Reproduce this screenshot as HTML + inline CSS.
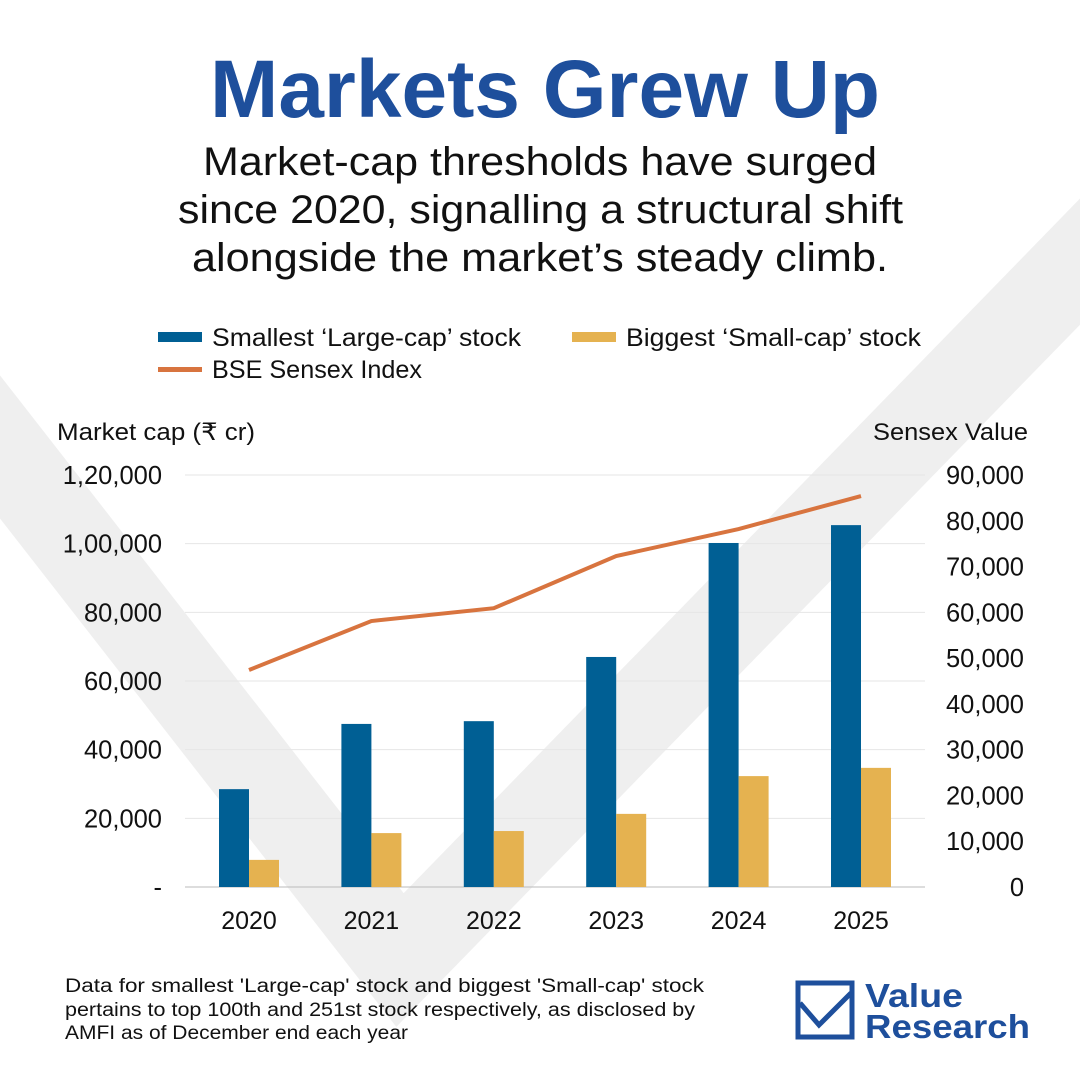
<!DOCTYPE html>
<html><head><meta charset="utf-8"><style>
html,body{margin:0;padding:0;background:#fff}
body{width:1080px;height:1080px;position:relative;overflow:hidden;font-family:"Liberation Sans",sans-serif}
svg text{font-family:"Liberation Sans",sans-serif}
</style></head><body>
<svg width="1080" height="1080" viewBox="0 0 1080 1080">
<polyline points="-60,370 400,960 1140,200" fill="none" stroke="#efefef" stroke-width="88"/>
<text x="210" y="117" textLength="670" lengthAdjust="spacingAndGlyphs" font-size="82" font-weight="bold" fill="#1e4f9c">Markets Grew Up</text>
<g font-size="40" fill="#111">
<text x="203" y="175" textLength="674" lengthAdjust="spacingAndGlyphs">Market-cap thresholds have surged</text>
<text x="178" y="223" textLength="725" lengthAdjust="spacingAndGlyphs">since 2020, signalling a structural shift</text>
<text x="192" y="271" textLength="696" lengthAdjust="spacingAndGlyphs">alongside the market’s steady climb.</text>
</g>
<g font-size="25" fill="#111">
<rect x="158" y="332" width="44" height="10" fill="#005f94"/>
<text x="212" y="346" textLength="309" lengthAdjust="spacingAndGlyphs">Smallest ‘Large-cap’ stock</text>
<rect x="572" y="332" width="44" height="10" fill="#e5b250"/>
<text x="626" y="346" textLength="295" lengthAdjust="spacingAndGlyphs">Biggest ‘Small-cap’ stock</text>
<rect x="158" y="367" width="44" height="5" fill="#d8743f"/>
<text x="212" y="378" textLength="210" lengthAdjust="spacingAndGlyphs">BSE Sensex Index</text>
</g>
<text x="57" y="440" font-size="24" textLength="198" lengthAdjust="spacingAndGlyphs" fill="#111">Market cap (₹ cr)</text>
<text x="873" y="440" font-size="24" textLength="155" lengthAdjust="spacingAndGlyphs" fill="#111">Sensex Value</text>
<g id="plot"></g>
<text x="65" y="992" font-size="19" textLength="639" lengthAdjust="spacingAndGlyphs" fill="#111">Data for smallest 'Large-cap' stock and biggest 'Small-cap' stock</text>
<text x="65" y="1016" font-size="19" textLength="630" lengthAdjust="spacingAndGlyphs" fill="#111">pertains to top 100th and 251st stock respectively, as disclosed by</text>
<text x="65" y="1039" font-size="19" textLength="343" lengthAdjust="spacingAndGlyphs" fill="#111">AMFI as of December end each year</text>
<g>
<rect x="798" y="983" width="54" height="54" fill="none" stroke="#1e4f9c" stroke-width="5"/>
<polyline points="800,1003 819,1025 851,993" fill="none" stroke="#1e4f9c" stroke-width="5"/>
<text x="865" y="1007" font-size="33" font-weight="bold" textLength="98" lengthAdjust="spacingAndGlyphs" fill="#1e4f9c">Value</text>
<text x="865" y="1038" font-size="33" font-weight="bold" textLength="165" lengthAdjust="spacingAndGlyphs" fill="#1e4f9c">Research</text>
</g>
</svg>
<script>
const years=["2020","2021","2022","2023","2024","2025"];
const largeCap=[28500,47500,48300,67000,100200,105400];
const smallCap=[7900,15700,16300,21300,32300,34700];
const sensex=[47400,58100,60900,72300,78200,85400];
const leftTicks=[0,20000,40000,60000,80000,100000,120000];
const leftTickLabels=["-","20,000","40,000","60,000","80,000","1,00,000","1,20,000"];
const rightTicks=[0,10000,20000,30000,40000,50000,60000,70000,80000,90000];
const rightTickLabels=["0","10,000","20,000","30,000","40,000","50,000","60,000","70,000","80,000","90,000"];
const NS="http://www.w3.org/2000/svg";
const g=document.getElementById('plot');
const y0=887,y1=475;
const yL=v=>y0-(v/120000)*(y0-y1);
const yR=v=>y0-(v/90000)*(y0-y1);
const xC=i=>249+i*122.4;
function mk(t,a){const e=document.createElementNS(NS,t);for(const k in a)e.setAttribute(k,a[k]);g.appendChild(e);return e;}
leftTicks.forEach((v,i)=>{
  const l=mk('line',{x1:185,x2:925,y1:yL(v),y2:yL(v),stroke:i===0?'#bbb':'#e6e6e6','stroke-width':1});
  
  
  const t=mk('text',{x:162,y:yL(v)+9,'font-size':25.5,fill:'#111','text-anchor':'end'});
  t.textContent=leftTickLabels[i];
  
  
});
rightTicks.forEach((v,i)=>{
  const t=mk('text',{x:1024,y:yR(v)+9,'font-size':25.5,fill:'#111','text-anchor':'end'});
  t.textContent=rightTickLabels[i];
  
  
});
years.forEach((yr,i)=>{
  const c=xC(i);
  const b=mk('rect',{x:c-30,y:yL(largeCap[i]),width:30,height:y0-yL(largeCap[i]),fill:'#005f94'});
  
  
  const s=mk('rect',{x:c,y:yL(smallCap[i]),width:30,height:y0-yL(smallCap[i]),fill:'#e5b250'});
  
  
  const t=mk('text',{x:c,y:929,'font-size':25,fill:'#111','text-anchor':'middle'});
  t.textContent=yr;
  
  
});
const p=mk('polyline',{points:sensex.map((v,i)=>xC(i)+','+yR(v)).join(' '),fill:'none',stroke:'#d8743f','stroke-width':4});


</script>
</body></html>
